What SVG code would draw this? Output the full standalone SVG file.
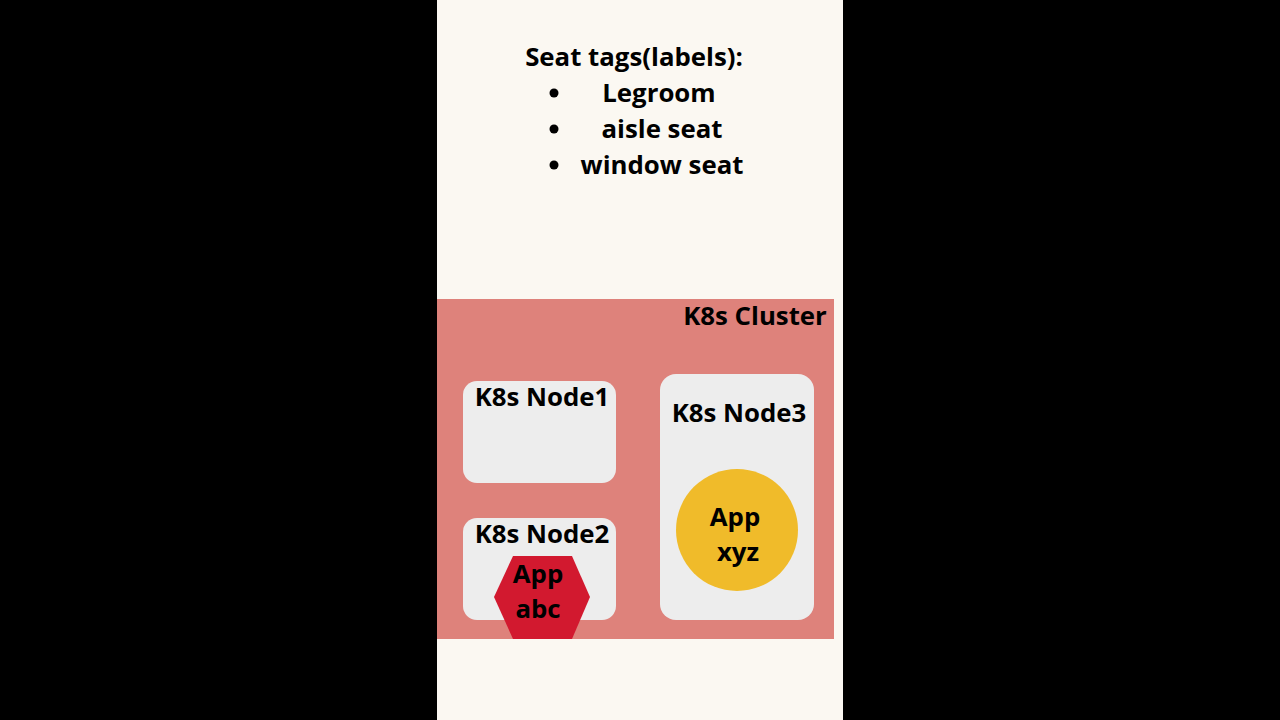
<svg xmlns="http://www.w3.org/2000/svg" width="1280" height="720" viewBox="0 0 1280 720">
<style>
text{font-family:"Open Sans","Liberation Sans",sans-serif;font-weight:bold;fill:#000;text-anchor:middle}
.t{font-size:25.8px}
.n{fill:#ededed}
</style>
<rect width="1280" height="720" fill="#000"/>
<rect x="437" y="0" width="406" height="720" fill="#fbf8f2"/>
<g id="legend">
<text class="t" x="634" y="66">Seat tags(labels):</text>
<circle cx="554" cy="93" r="4.5" fill="#000"/><text class="t" x="659" y="102">Legroom</text>
<circle cx="554" cy="129" r="4.5" fill="#000"/><text class="t" x="662" y="138">aisle seat</text>
<circle cx="554" cy="165" r="4.5" fill="#000"/><text class="t" x="662" y="174">window seat</text>
</g>
<g id="cluster">
<rect x="437" y="299" width="397" height="340" fill="#de827b"/>
<text class="t" x="755" y="325">K8s Cluster</text>
</g>
<g id="node1"><rect class="n" x="463" y="381" width="153" height="102" rx="14"/><text class="t" x="542" y="406">K8s Node1</text></g>
<g id="node2"><rect class="n" x="463" y="518" width="153" height="102" rx="14"/><text class="t" x="542" y="543">K8s Node2</text></g>
<g id="node3"><rect class="n" x="660" y="374" width="154" height="246" rx="16"/><text class="t" x="739" y="422">K8s Node3</text></g>
<g id="appxyz"><circle cx="737" cy="530" r="61" fill="#f0bb2a"/><text class="t" x="735" y="526">App</text><text class="t" x="738" y="561">xyz</text></g>
<g id="appabc"><polygon points="494,597 513,556 572,556 590,597 572,639 513,639" fill="#d2192f"/><text class="t" x="538" y="583">App</text><text class="t" x="538" y="618">abc</text></g>
<g id="connectors"/>
</svg>
